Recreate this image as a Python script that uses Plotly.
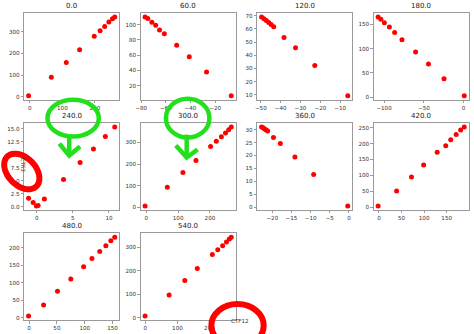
import math
import plotly.graph_objects as go

# ---------------- data ----------------
titles = ["0.0", "60.0", "120.0", "180.0", "240.0", "300.0", "360.0", "420.0", "480.0", "540.0"]

x_0 = [-4, 66, 112, 153, 198, 216, 230, 243, 254, 261]
y_0 = [5, 91, 158, 217, 280, 305, 325, 345, 360, 369]

x_60 = [-76.8, -74.6, -71.3, -68.2, -65.1, -61.2, -51.2, -41.0, -27.0, -7.0]
y_60 = [110, 108, 103, 99, 93, 88, 73, 58, 38, 7]

x_120 = [-49.6, -48.4, -47.2, -46.0, -44.8, -43.5, -38.3, -32.5, -22.8, -6.2]
y_120 = [69.0, 67.6, 66.2, 64.7, 63.2, 61.5, 53.4, 45.6, 32.2, 9.3]

x_180 = [-107.5, -104, -99.6, -93.3, -86.7, -77.5, -60.4, -44.2, -24.6, 0.8]
y_180 = [165, 160, 153, 144, 133, 118, 93, 68, 38, 3]

x_240 = [-1.14, -0.5, -0.05, 0.18, 1.05, 3.7, 6.0, 7.85, 9.5, 10.8]
y_240 = [1.6, 0.77, 0.13, 0.19, 1.48, 5.2, 8.5, 11.1, 13.5, 15.3]

x_300 = [-4, 66, 115, 156, 202, 220, 236, 249, 259, 267]
y_300 = [6, 93, 161, 216, 281, 305, 326, 343, 359, 371]

x_360 = [-22.8, -22.4, -22.0, -21.6, -21.2, -19.7, -17.9, -14.1, -9.2, -0.3]
y_360 = [31.0, 30.7, 30.3, 29.9, 29.5, 27.0, 24.6, 19.4, 12.7, 0.5]

x_420 = [-2, 39, 72, 99, 129, 148, 159, 171, 181, 189]
y_420 = [4, 51, 95, 133, 173, 193, 212, 229, 243, 252]

x_480 = [-1, 26, 51, 75, 98, 113, 127, 138, 147, 154]
y_480 = [5, 37, 76, 111, 146, 169, 189, 206, 220, 230]

x_540 = [-1, 74, 123, 162, 209, 226, 241, 253, 262, 268]
y_540 = [7, 97, 159, 210, 269, 290, 307, 323, 336, 343]

xs_all = [x_0, x_60, x_120, x_180, x_240, x_300, x_360, x_420, x_480, x_540]
ys_all = [y_0, y_60, y_120, y_180, y_240, y_300, y_360, y_420, y_480, y_540]

x_dticks = [100, 20, 10, 50, 5, 100, 5, 50, 50, 100]
y_dticks = [100, 20, 10, 50, 2.5, 100, 5, 50, 50, 100]
y_formats = ["", "", "", "", ".1f", "", "", "", "", ""]

# ---------------- layout geometry ----------------
W, H = 474, 334
col_left = [18.5, 136.5, 254.5, 372.5]
col_w = 96
row_top = [13, 123.5, 234]
row_h = 87

FONT = "DejaVu Sans"
AXCOL = "#9a9a9a"
TXT = "#333333"


def padded(v, frac=0.05):
    lo, hi = min(v), max(v)
    p = (hi - lo) * frac
    return [lo - p, hi + p]


fig = go.Figure()
layout = {}
annotations = []

for i in range(len(titles)):
    r, c = divmod(i, 4)
    n = i + 1
    xa = "x" if n == 1 else f"x{n}"
    ya = "y" if n == 1 else f"y{n}"
    xd = [col_left[c] / W, (col_left[c] + col_w) / W]
    yd = [1 - (row_top[r] + row_h) / H, 1 - row_top[r] / H]
    fig.add_trace(go.Scatter(
        x=xs_all[i], y=ys_all[i], mode="markers",
        marker=dict(color="#ff0000", size=5, line=dict(width=0)),
        xaxis=xa, yaxis=ya, showlegend=False, hoverinfo="skip"))
    common = dict(showgrid=False, zeroline=False, showline=True, mirror=True,
                  linecolor=AXCOL, linewidth=1, ticks="outside", ticklen=2.5,
                  tickcolor=AXCOL, tickwidth=1,
                  tickfont=dict(family=FONT, size=5.6, color=TXT), tick0=0)
    layout[f"xaxis{n}"] = dict(domain=xd, anchor=ya, range=padded(xs_all[i]),
                               dtick=x_dticks[i], **common)
    layout[f"yaxis{n}"] = dict(domain=yd, anchor=xa, range=padded(ys_all[i]),
                               dtick=y_dticks[i], tickformat=y_formats[i], **common)
    annotations.append(dict(text=titles[i], x=(xd[0] + xd[1]) / 2, y=yd[1],
                            xref="paper", yref="paper", xanchor="center",
                            yanchor="bottom", yshift=1, showarrow=False,
                            font=dict(family=FONT, size=7, color="#222")))

# stray axis labels
annotations.append(dict(text="CTF3", x=18 / W, y=1 - 166 / H, xref="paper", yref="paper",
                        xanchor="center", yanchor="middle",
                        textangle=90, showarrow=False,
                        font=dict(family=FONT, size=5.6, color=TXT)))
annotations.append(dict(text="CTF12", x=237 / W, y=1 - 322 / H, xref="paper", yref="paper",
                        xanchor="center", yanchor="middle",
                        showarrow=False, font=dict(family=FONT, size=5.6, color=TXT)))


def P(x, y):
    return f"{x / W:.5f},{1 - y / H:.5f}"


def ellipse(x0, y0, x1, y1, color, width):
    return dict(type="circle", xref="paper", yref="paper",
                x0=x0 / W, x1=x1 / W, y0=1 - y1 / H, y1=1 - y0 / H,
                line=dict(color=color, width=width), layer="above")


def tilted_ellipse(cx, cy, a, b, ang_deg, color, width, n=48):
    t = math.radians(ang_deg)
    pts = []
    for k in range(n + 1):
        u = 2 * math.pi * k / n
        ex, ey = a * math.cos(u), b * math.sin(u)
        pts.append((cx + ex * math.cos(t) - ey * math.sin(t),
                    cy + ex * math.sin(t) + ey * math.cos(t)))
    d = "M " + " L ".join(P(x, y) for x, y in pts) + " Z"
    return dict(type="path", xref="paper", yref="paper", path=d,
                line=dict(color=color, width=width), layer="above")


def poly(pts, color, width):
    d = "M " + " L ".join(P(x, y) for x, y in pts)
    return dict(type="path", xref="paper", yref="paper", path=d,
                line=dict(color=color, width=width), layer="above")


GREEN = "#22e01c"
RED = "#ff0000"
shapes = [
    ellipse(42, 100, 94, 137, GREEN, 4.5),
    poly([(64, 135), (64, 154)], GREEN, 4.5),
    poly([(54, 144), (64, 156), (75, 147)], GREEN, 4.5),
    ellipse(162, 99, 206, 138, GREEN, 4.5),
    poly([(183, 135), (183, 155)], GREEN, 4.5),
    poly([(172, 146), (183, 158), (194, 150)], GREEN, 4.5),
    tilted_ellipse(16, 172, 21, 14, 45, RED, 6),
    ellipse(208, 305, 261, 348, RED, 6),
]

fig.update_layout(
    width=W, height=H, margin=dict(l=0, r=0, t=0, b=0),
    paper_bgcolor="white", plot_bgcolor="white",
    font=dict(family=FONT), annotations=annotations, shapes=shapes,
    **layout)

fig.write_html("out.html")
